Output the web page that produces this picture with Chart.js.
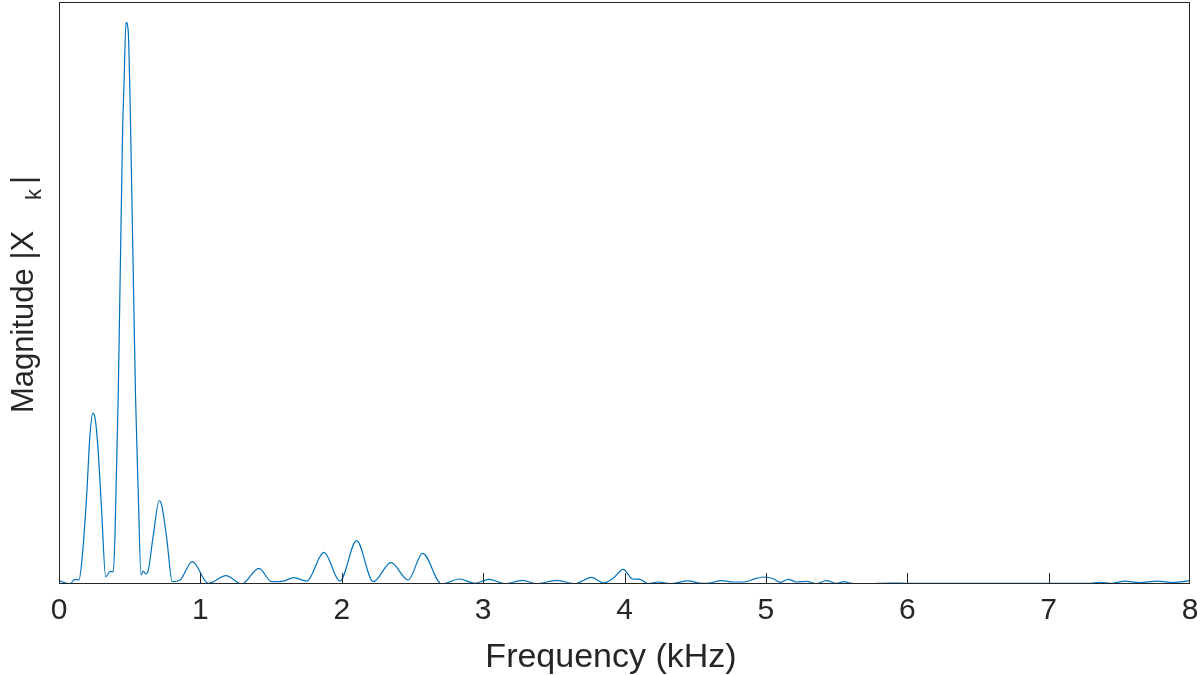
<!DOCTYPE html>
<html>
<head>
<meta charset="utf-8">
<script src="https://cdn.jsdelivr.net/npm/chart.js@4.4.0/dist/chart.umd.min.js"></script>
<style>
    html, body { margin: 0; padding: 0; background: #fff; }
    #wrap { width: 1200px; height: 675px; }
</style>
</head>
<body>
<div id="wrap"><canvas id="chart-espectro" width="1200" height="675"></canvas></div>
<script>
const frecuencias = [
    0.00, 0.03, 0.078, 0.113, 0.141, 0.161, 0.196, 0.219, 0.240, 0.255, 0.274, 0.302, 0.330, 0.361, 0.384, 0.396,
    0.419, 0.450, 0.460, 0.474, 0.490, 0.500, 0.507, 0.541, 0.561, 0.580, 0.596, 0.613, 0.632, 0.667, 0.709, 0.726,
    0.762, 0.801, 0.856, 0.943, 1.056, 1.181, 1.292, 1.414, 1.504, 1.586, 1.662, 1.752, 1.874, 1.987, 2.105, 2.223,
    2.348, 2.470, 2.572, 2.707, 2.831, 2.942, 3.043, 3.154, 3.279, 3.378, 3.520, 3.649, 3.767, 3.854, 3.920, 3.991,
    4.057, 4.109, 4.167, 4.238, 4.321, 4.450, 4.533, 4.581, 4.687, 4.769, 4.839, 4.934, 4.986, 5.052, 5.104, 5.158,
    5.217, 5.288, 5.354, 5.429, 5.500, 5.552, 5.606, 5.712, 5.877, 5.995, 6.30, 6.65, 7.01, 7.29, 7.36, 7.45,
    7.54, 7.64, 7.77, 7.88, 8.00
];
const magnitudes = [
    0.0064, 0.0029, 0.0005, 0.0081, 0.0069, 0.0383, 0.153, 0.256, 0.293, 0.285, 0.239, 0.124, 0.0125, 0.0211, 0.0211, 0.084,
    0.325, 0.780, 0.860, 0.965, 0.949, 0.860, 0.780, 0.325, 0.153, 0.0155, 0.0223, 0.0172, 0.0241, 0.084, 0.143, 0.136,
    0.0785, 0.004, 0.0069, 0.0383, 0.0012, 0.0143, 0.0, 0.027, 0.004, 0.005, 0.011, 0.005, 0.0545, 0.005, 0.0744, 0.004,
    0.0366, 0.0069, 0.0527, 0.0, 0.0086, 0.0012, 0.0081, 0.0005, 0.0064, 0.0005, 0.0064, 0.0005, 0.0115, 0.0017, 0.0098, 0.0253,
    0.0086, 0.0081, 0.0005, 0.0034, 0.0005, 0.0052, 0.0017, 0.0012, 0.0057, 0.0034, 0.0034, 0.0098, 0.012, 0.0091, 0.0029, 0.0081,
    0.0034, 0.0046, 0.0005, 0.0057, 0.0012, 0.004, 0.0012, 0.0005, 0.0017, 0.0012, 0.001, 0.001, 0.001, 0.0012, 0.003, 0.0012,
    0.005, 0.0026, 0.005, 0.0026, 0.0057
];
const ticksX = [0, 1, 2, 3, 4, 5, 6, 7, 8];
const tituloX = "Frequency (kHz)";

const colorTexto = "#262626";
const colorLinea = "#0072BD";
const fuente = "'Liberation Sans', Arial, sans-serif";

const puntos = frecuencias.map((f, i) => ({ x: f, y: magnitudes[i] }));

// caja estilo matlab + marcas hacia dentro + titulos
const cajaMatlab = {
    id: "cajaMatlab",
    afterDatasetsDraw(chart) {
        const { ctx, chartArea: a, scales: { x } } = chart;
        ctx.save();
        ctx.strokeStyle = colorTexto;
        ctx.lineWidth = 1;
        ctx.strokeRect(a.left + 0.5, a.top + 0.5, a.right - a.left - 1, a.bottom - a.top - 1);

        ctx.beginPath();
        ticksX.slice(1, -1).forEach(v => {
            const px = Math.round(x.getPixelForValue(v)) + 0.5;
            ctx.moveTo(px, a.bottom);
            ctx.lineTo(px, a.bottom - 11);
        });
        ctx.stroke();

        // titulo eje X
        ctx.fillStyle = colorTexto;
        ctx.font = "34px " + fuente;
        ctx.textAlign = "center";
        ctx.textBaseline = "alphabetic";
        ctx.fillText(tituloX, 611, 667);

        // etiqueta eje Y: Magnitude |X_k|
        ctx.translate(33, 0);
        ctx.rotate(-Math.PI / 2);
        ctx.textAlign = "left";
        ctx.font = "31px " + fuente;
        ctx.fillText("Magnitude |X", -413, 0);
        ctx.font = "22px " + fuente;
        ctx.fillText("k", -200, 8);
        ctx.font = "31px " + fuente;
        ctx.fillText("|", -184, 0);
        ctx.restore();
    }
};

const ctx = document.getElementById("chart-espectro").getContext("2d");

new Chart(ctx, {
    type: "line",
    data: {
        datasets: [{
            label: "|Xk|",
            data: puntos,
            borderColor: colorLinea,
            borderWidth: 1.2,
            pointRadius: 0,
            fill: false,
            cubicInterpolationMode: "monotone"
        }]
    },
    options: {
        responsive: false,
        animation: false,
        layout: {
            padding: { top: 2, right: 10, left: 0, bottom: 0 }
        },
        plugins: {
            legend: { display: false },
            tooltip: { enabled: false }
        },
        scales: {
            x: {
                type: "linear",
                min: 0,
                max: 8,
                afterFit: s => {
                    s.height = 91;
                    s.paddingLeft = 0;
                    s.paddingRight = 0;
                },
                afterBuildTicks: s => { s.ticks = ticksX.map(v => ({ value: v })); },
                grid: { display: false, drawTicks: false },
                border: { display: false },
                ticks: {
                    padding: 9,
                    color: colorTexto,
                    font: { size: 30, family: fuente }
                },
                title: { display: false, text: tituloX }
            },
            y: {
                min: 0,
                max: 1,
                afterFit: s => { s.width = 59; },
                grid: { display: false, drawTicks: false },
                border: { display: false },
                ticks: { display: false }
            }
        }
    },
    plugins: [cajaMatlab]
});
</script>
</body>
</html>
